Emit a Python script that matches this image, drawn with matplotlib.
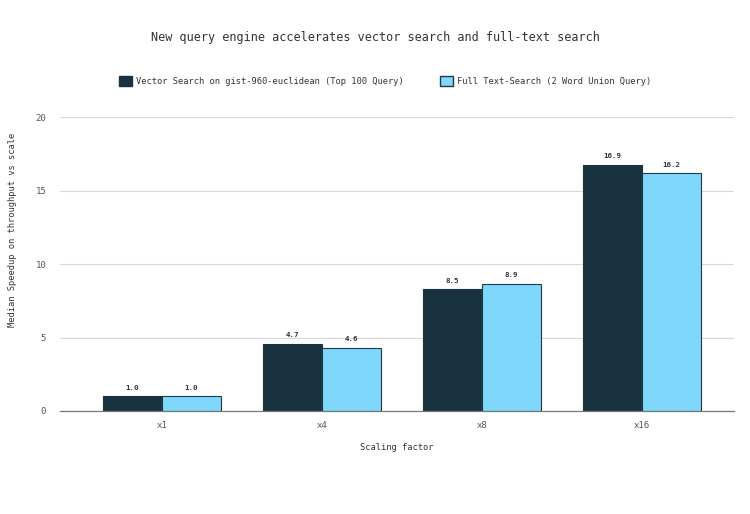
import numpy as np
import matplotlib.pyplot as plt
from matplotlib.patches import Patch

plt.rcParams['font.family'] = ['DejaVu Sans Mono']

categories = ["x1", "x4", "x8", "x16"]
vector_search = [1.0, 4.56, 8.3, 16.75]
full_text = [1.0, 4.3, 8.65, 16.2]
vector_labels = ["1.0", "4.7", "8.5", "16.9"]
full_text_labels = ["1.0", "4.6", "8.9", "16.2"]
yticks = [0, 5, 10, 15, 20]

dark = "#18333f"
light = "#7fd8fb"
text_color = "#333333"

fig = plt.figure(figsize=(7.5, 5.14), dpi=100)
ax = fig.add_axes([0.08, 0.2004, 0.8987, 0.5714])

x = np.arange(len(categories))
w = 0.368
b1 = ax.bar(x - w / 2, vector_search, w, color=dark, edgecolor=dark, linewidth=0.8, zorder=3)
b2 = ax.bar(x + w / 2, full_text, w, color=light, edgecolor="#1f3a46", linewidth=0.8, zorder=3)

for bars, labels in [(b1, vector_labels), (b2, full_text_labels)]:
    for bar, lab in zip(bars, labels):
        ax.annotate(lab, (bar.get_x() + bar.get_width() / 2, bar.get_height()),
                    xytext=(0, 4), textcoords="offset points", ha="center", va="bottom",
                    fontsize=5.4, fontweight="bold", color=text_color)

ax.set_xlim(-0.6375, 3.575)
ax.set_ylim(0, 20)
ax.set_yticks(yticks)
ax.set_xticks(x)
ax.set_xticklabels(categories)
ax.tick_params(length=0, labelsize=6.5, colors="#555555")
ax.tick_params(axis="y", pad=10)
ax.tick_params(axis="x", pad=7)
ax.grid(axis="y", color="#d5d8da", linewidth=0.8, zorder=0)
for s in ["top", "right", "left"]:
    ax.spines[s].set_visible(False)
ax.spines["bottom"].set_color("#777777")
ax.spines["bottom"].set_linewidth(0.9)
ax.spines["bottom"].set_zorder(4)

fig.text(0.5293, 1 - 448 / 514, "Scaling factor", ha="center", va="center",
         fontsize=6.3, color=text_color)
fig.text(13 / 750, 1 - 230 / 514, "Median Speedup on throughput vs scale", rotation=90,
         ha="center", va="center", fontsize=6.3, color=text_color)
fig.text(0.5, 1 - 38 / 514, "New query engine accelerates vector search and full-text search",
         ha="center", va="center", fontsize=8.5, color=text_color)

handles = [Patch(facecolor=dark, edgecolor=dark, label="Vector Search on gist-960-euclidean (Top 100 Query)"),
           Patch(facecolor=light, edgecolor="#1f3a46", label="Full Text-Search (2 Word Union Query)")]
fig.legend(handles=handles, loc="center", bbox_to_anchor=(385 / 750, 1 - 81 / 514), ncol=2,
           frameon=False, fontsize=6.3, handlelength=1.5, handleheight=1.5,
           handletextpad=0.45, columnspacing=4.2, labelcolor=text_color)

fig.savefig("out.png", dpi=100, facecolor="white")
